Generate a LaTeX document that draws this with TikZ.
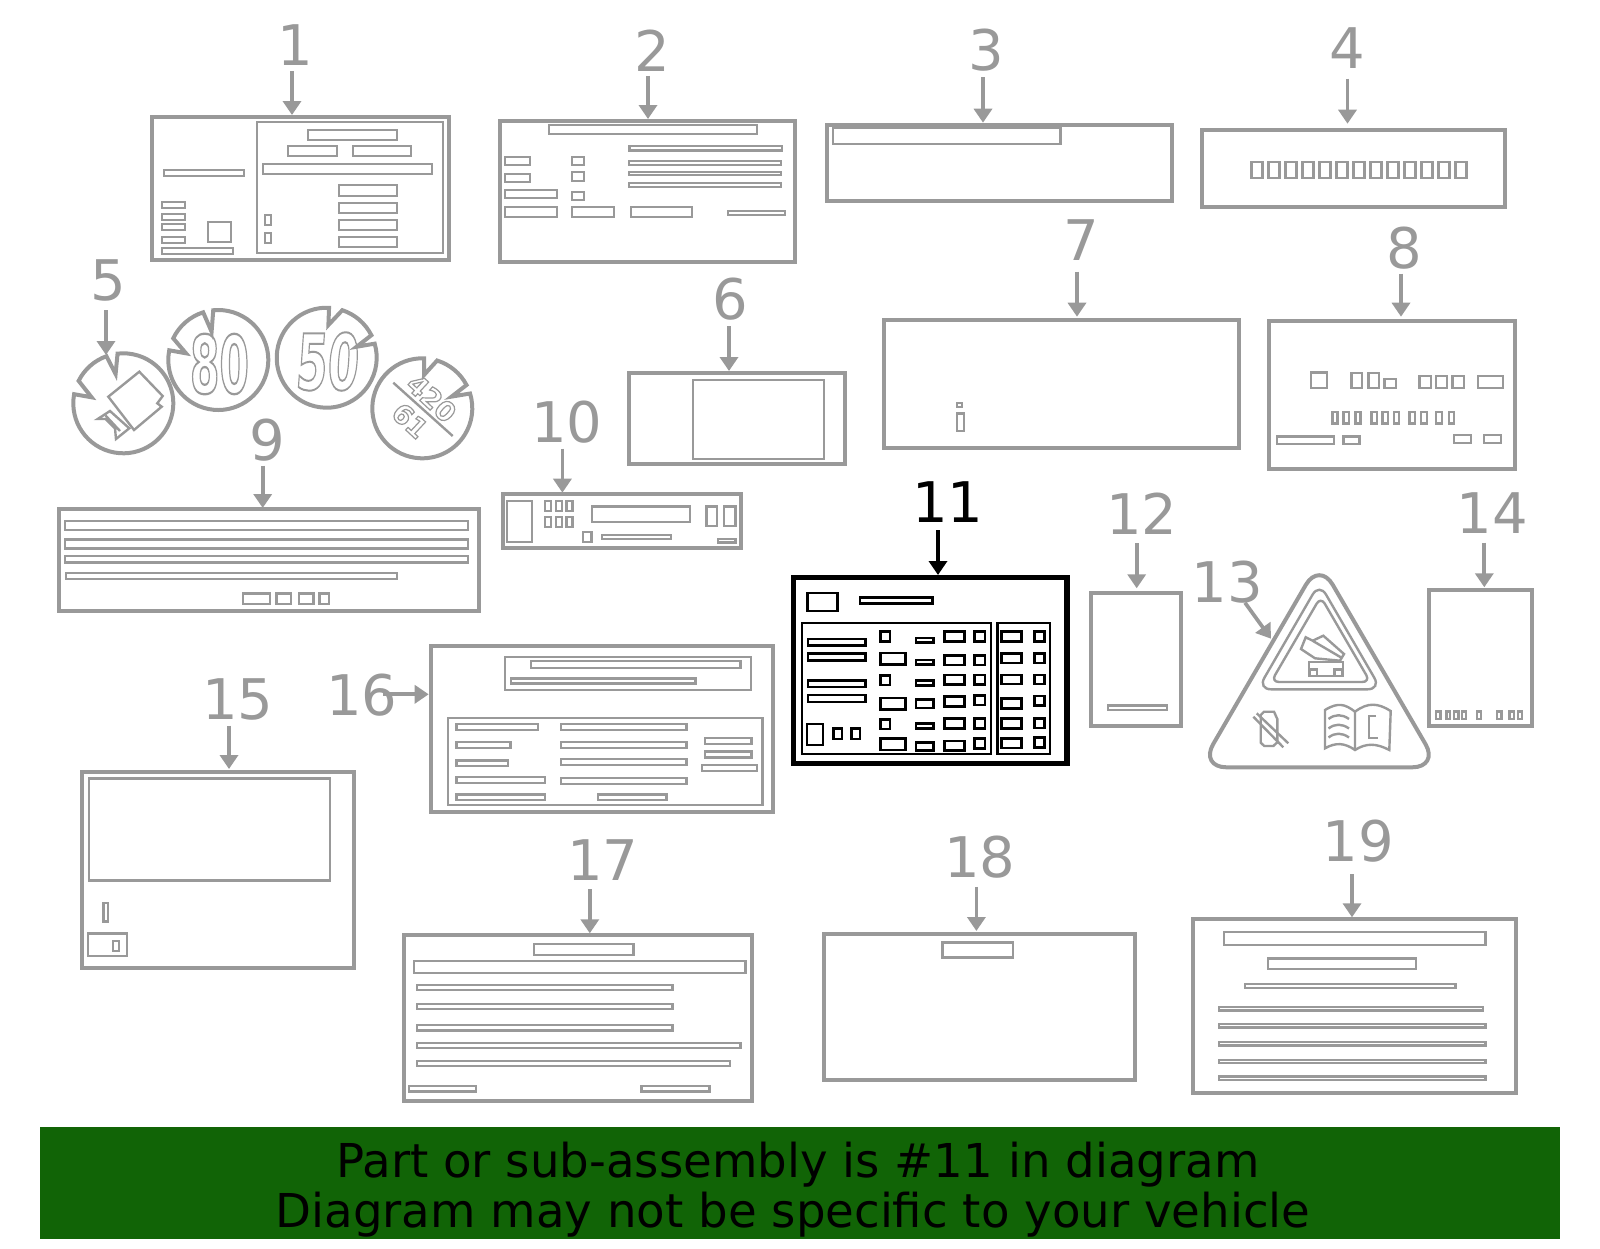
\documentclass[tikz,border=0pt]{standalone}
\usepackage{fontspec}
\setmainfont{DejaVu Sans}
\usetikzlibrary{arrows.meta,fit}
\definecolor{partgray}{HTML}{999999}
\definecolor{bannergreen}{HTML}{116406}
\newcommand{\outlined}[2]{\special{pdf:code q 1 Tr #1 w 0.6 G}#2\special{pdf:code Q}}
\begin{document}
\begin{tikzpicture}
      [x=0.75pt,y=-0.75pt,
      part/.style={draw=partgray,line width=3pt,inner sep=0pt,outer sep=0pt},
      partk/.style={draw=black,line width=3.9pt,inner sep=0pt,outer sep=0pt},
      cell/.style={draw=partgray,line width=1.8pt},
      cellk/.style={draw=black,line width=2.2pt},
      num/.style={font=\fontsize{42}{42}\selectfont,text=partgray,inner sep=0pt},
      leader/.style={draw=partgray,line width=2.8pt,-{Triangle[length=10.5pt,width=13.5pt]}},
      stamp/.style={font=\bfseries\fontsize{#1}{#1}\selectfont,inner sep=0pt},
      caption/.style={font=\fontsize{35}{35}\selectfont,text=black,inner sep=0pt,anchor=base},
      ]
      \useasboundingbox (0,0) rectangle (1600,1249);
      \foreach \k/\xa/\ya/\xb/\yb in {1/151/115.5/449.5/260.5,2/498.6/119.5/795.7/262.5,3/826.4/123.7/1173/201.5,
        4/1201.4/128.7/1506.4/207.5,6/627.5/372.3/845.7/464.5,7/882.9/319.3/1240.4/448.7,8/1267.5/320/1516.4/470,
        9/58.3/507.7/480/611.7,10/502.2/493.3/742.1/549,12/1090.3/592/1181.7/726.7,14/1428.3/589.3/1532.7/727.3,
        15/81.1/770.7/354.8/969.3,16/430/645/774/813.3,17/402.5/934/753.3/1102,18/822.8/933/1135.9/1081,19/1191.7/918/1517.4/1094.3}
        \node[part,fit={(\xa+1,\ya+1)(\xb-1,\yb-1)}] (p\k) {};
      \node[partk,fit={(793.5,577.2)(1067,763.5)}] (p11) {};
      \foreach \xa/\ya/\xb/\yb in {256/121/444/254,307/129/398/141,287/145/338/157,352/145/412/157,262/163/433/175,
        338/184/398/197,338/202/398/214,338/219/398/231,338/236/398/248,264/214/272/226,264/232/272/244,
        163/169/245/177,161/201/186/209,161/213/186/221,161/223/186/231,161/236/186/244,161/247/234/255,207/221/232/243,
        547.9/124/757.9/135,628.6/145.3/782.9/151.3,628/160/782/166,628/171/782/176,628/182/782/188,
        504/156/531/166,504/173/531/183,504/189/558/199,504/206/558/218,571/156/585/166,571/171/585/182,
        571/191/585/201,571/206/615/218,630/206/693/218,727/210/786/216,
        832/127.3/1061.4/145,692/379/825/460,956.4/402/963/408,956.4/412.7/964.6/432,
        1310/371.7/1328/389,1350.7/372/1363/389,1367.5/372/1380/389,1383.6/378/1396.8/389,
        1418.6/375/1431.8/389,1435/375/1448/389,1451.8/375/1465/389,1477/375/1504/389,
        1331.8/411/1338.2/424.3,1342.5/411/1349.6/424.3,1354.6/411/1361.4/424.3,1370.7/411/1377.9/424.3,
        1381.8/411/1388.9/424.3,1393.2/411/1400/424.3,1408.6/411/1415.7/424.3,1420.4/411/1427.5/424.3,
        1435.4/411/1442.5/424.3,1447.9/411/1454.6/424.3,1276.4/435.7/1334.6/445,1342.5/435.7/1360.4/445,
        1453.2/434.3/1472/443.7,1482.9/434.3/1501.8/443.7,
        64.3/520/468.7/530.7,64.3/538.7/468.7/549.3,64.3/555/468.7/563.3,65.3/572/398/580,
        242.3/592.7/271/604.7,275.7/592.7/291.7/604.7,298.3/592.7/314.3/604.7,318.7/592.7/330/604.7,
        506/500.3/532.8/542.7,544.3/500.3/552/511.7,555/500.3/562.7/511.7,565.7/500.3/573.4/511.7,
        544.3/516/552/527.7,555/516/562.7/527.7,565.7/516/573.4/527.7,591.4/505.7/690.5/522.7,
        705.8/505.7/718/526.7,723/505.7/736.4/526.7,582.2/531/592.1/542.7,601/534/672/539.7,717.3/538/736.4/543.3,
        1107.3/704.7/1167.7/710.7,1435.3/710.7/1441.3/720,1445.7/710.7/1451/720,1453.3/710.7/1459.3/720,
        1461/710.7/1467/720,1476/710.7/1482/720,1496.3/710.7/1502.3/720,1508.7/710.7/1514.7/720,1517/710.7/1523/720,
        88/777.7/330.9/881.3,102.7/902.3/109/922.3,87/932.7/128/957,111.9/940.3/119.7/951.7,
        504.4/656.3/751.9/690.7,530.2/660.3/741.4/669,510.4/677.7/696.4/684.3,447/717/763.4/805.7,
        455.8/723.3/538.9/730.7,455.8/741.3/511.3/748.7,455.8/759.7/509/767,455.8/776.3/545.8/784,455.8/793.7/545.8/801,
        560/723.3/687.2/730.7,560/741.3/687.2/748.7,560/758/687.2/765.7,560/777.3/687.2/785,597.2/793.7/667.4/801,
        704.2/737/752.4/744.7,704.2/750.7/752.4/758.3,701/764.3/757.9/772,
        533.4/943/634.4/956,413/960.3/746.4/973.7,416.3/984.3/673.4/991,416.3/1003.3/673.4/1010,416.3/1024.3/673.4/1031.3,
        416.3/1042/741.4/1049,416.3/1060.3/730.8/1067,408/1085.3/476.9/1092.3,640.8/1085.3/710.1/1092.3,
        941.5/941.7/1013.8/958.3,1223.2/931.3/1486.4/946,1267.3/957.7/1417/970,1244/983/1456.3/989,
        1218.3/1006/1483.5/1011.3,1218.3/1023/1486.4/1028.3,1218.3/1041/1486.4/1046.3,1218.3/1059/1486.4/1064,1218.3/1075.7/1486.4/1081}
        \draw[cell] (\xa+.8,\ya+.8) rectangle (\xb-.8,\yb-.8);
      \foreach \i in {0,...,12}
        \draw[cell] (1250.7+\i*17+.8,161.8) rectangle (1250.7+\i*17+11.7,178.2);
      \foreach \xa/\ya/\xb/\yb in {806.7/592/838.3/612,859/596.3/933.3/604.7,801/622/992/755,996.7/622/1051/755,
        807/638/866.3/646.7,807/652.3/866.3/661.3,807/679.3/866.3/688,807/694/866.3/703,806/723/824/746,
        832.3/727.3/843/740,850.3/727.3/861/740,879.7/630.7/891/642.3,879.7/652/906.3/665.3,879.7/674.7/891/686,
        879.7/697/906.3/710.3,879.7/718.3/891/730,879.7/737.7/906.3/751,915/637/934.3/643.7,915/659/934.3/665.3,
        915/679.7/934.3/686.3,915/698.7/934.3/709,915/722.7/934.3/729.3,915/741.7/934.3/751.7,
        943.7/630.7/965.7/642.3,943.7/654.3/965.7/666,943.7/674/965.7/685.7,943.7/695.7/965.7/707.3,
        943.7/717.7/965.7/729.3,943.7/740/965.7/751.7,973.7/630.7/986/642.3,973.7/654.3/986/666,973.7/674/986/685.7,
        973.7/694.3/986/706,973.7/717.7/986/729.3,973.7/737.7/986/749.3,1000.7/630.7/1022.7/642.3,1000.7/652.3/1022.7/664,
        1000.7/674/1022.7/685,1000.7/697.7/1022.7/709.3,1000.7/717.7/1022.7/729.3,1000.7/737.3/1022.7/749,
        1033.3/630.7/1045.7/642.3,1033.3/652.3/1045.7/664,1033.3/674/1045.7/685,1033.3/695/1045.7/706.7,
        1033.3/717.3/1045.7/729,1033.3/736.7/1045.7/748.3}
        \draw[cellk] (\xa+1,\ya+1) rectangle (\xb-1,\yb-1);
      \foreach \cx/\cy/\aa/\ab/\nxa/\nya/\ac/\ad/\nxb/\nyb in {123.3/403.3/109.7/153.3/-31.7/6/169.5/456.6/-7.7/29.3,
        218.3/360/107.6/154.3/-32.3/6.7/168.8/455.8/-6.7/28.3,326.7/357.7/26.7/71.8/1.7/32.7/87.3/376.3/30/11,
        422.3/408.3/27.8/72.8/1.7/33.3/88/377.2/29.3/11.7}
        {
        \begin{scope}[shift={(\cx,\cy)},y=0.75pt]
          \draw[part] (\aa:50) arc[start angle=\aa,end angle=\ab,radius=50] -- (\nxa,\nya) -- (\ac:50)
            arc[start angle=\ac,end angle=\ad,radius=50] -- (\nxb,\nyb) -- cycle;
        \end{scope}
        }
      \draw[cell] (108.3,396.7) -- (139.3,371.7) -- (162.7,396) -- (157.3,403.3) -- (161.7,406.7) -- (134,430) -- cycle;
      \draw[cell] (97.7,419) -- (110,411) -- (129.3,428.3) -- (116,439) -- (115,428.3) -- (105.7,419) -- cycle (105.7,415.7) -- (120,431);
      \node[stamp=60,xscale=.53] (s80) at (219.5,364) {\outlined{1.7}{80}};
      \node[stamp=58,xscale=.58,xslant=.12] (s50) at (328,361.5) {\outlined{1.5}{50}};
      \node[stamp=20,rotate=-43] (s420) at (431.7,398.3) {\outlined{.9}{420}};
      \node[stamp=20,rotate=-43] (s61) at (410,420.7) {\outlined{.9}{61}};
      \draw[cell] (393.3,382.7) -- (452.7,436);
      \draw[part,rounded corners=20pt] (1319.3,561.7) -- (1439,767.3) -- (1199.7,767.3) -- cycle;
      \draw[cell,rounded corners=10pt] (1319.3,583) -- (1381,689.3) -- (1257.7,689.3) -- cycle;
      \draw[cell,rounded corners=6pt] (1320.7,596.7) -- (1370.3,682) -- (1271,682) -- cycle;
      \draw[cell] (1301,649) -- (1305.7,637.3) -- (1312.7,640.7) -- (1323.3,635.7) -- (1344,654) -- (1340,660.7) -- (1315,658.3) -- cycle (1313,641) -- (1342,658);
      \draw[cell] (1309,662) rectangle (1343,676);
      \draw[cell] (1310,669.5) rectangle (1317,676);
      \draw[cell] (1334.5,669.5) rectangle (1342.5,676);
      \draw[cell] (1260.7,715) -- (1264,711.7) -- (1274,711.7) -- (1277.3,719) -- (1277.3,742.3) -- (1273.3,746) -- (1264.3,746) -- (1260.7,742.7) -- cycle;
      \draw[cell] (1253.3,716.7) -- (1283.3,747.3) (1256.7,713.3) -- (1288.3,743.3);
      \draw[cell] (1325,710) .. controls (1338,702) and (1345,704) .. (1355,711.7) .. controls (1368,702) and (1378,703) .. (1390.7,711) -- (1389.3,750)
        .. controls (1376,743) and (1366,743) .. (1355,750) .. controls (1345,743) and (1336,742) .. (1325,748.3) -- cycle (1355,711.7) -- (1355,750);
      \foreach \yy in {719,728.5,737.5}
        \draw[cell] (1328.5,\yy) .. controls (1335,\yy-5) and (1342,\yy-5) .. (1349,\yy);
      \draw[cell] (1376,715.7) -- (1369,715.7) -- (1369,737.7) -- (1378,737.7);
      \foreach \k/\xx/\yy in {1/295/45,2/652/50.5,3/986/50,4/1347/48,5/108.7/280,6/730/299,7/1081/240,8/1404/248.5,
        9/267/440,10/567/422.5,12/1142/513.5,13/1227.5/582.5,14/1492/513,15/238/699.5,16/362/695.5,17/603/860.5,18/980/857.5,19/1358/841}
        \node[num] (n\k) at (\xx,\yy) {\k};
      \node[num,text=black] (n11) at (948,502) {11};
      \foreach \k/\xx/\yy/\gap in {1/292/115/5.7,2/648/119/4.3,3/983/122.7/6,4/1347.5/123.7/10,5/106/355/9.3,6/729/371/5.7,
        7/1077/316.7/11,8/1401/316.7/3.7,9/262.7/508/4.3,10/562.4/492.7/4.7,12/1136.7/588.3/8.7,14/1484.3/587.3/9,
        15/229/769/5,17/589.8/933.3/8,18/976.4/931/8,19/1352/917.3/11.6}
        {
        \coordinate (t\k) at (\xx,\yy);
        \draw[leader,shorten <=\gap*0.75pt] (n\k.south -| t\k) -- (t\k);
        }
      \coordinate (t11) at (938,575);
      \draw[leader,draw=black,shorten <=5.5pt] (n11.south -| t11) -- (t11);
      \coordinate (s13) at (1245,602.7);
      \coordinate (t13) at (1271,638.7);
      \draw[leader] (s13) -- (t13);
      \coordinate (s16) at (382.8,694.3);
      \coordinate (t16) at (428.7,694.3);
      \draw[leader] (s16) -- (t16);
      \node[fill=bannergreen,inner sep=0pt,fit={(40,1127.3)(1559.6,1238.7)}] (banner) {};
      \node[caption] (cap1) at (798,1177) {Part or sub-assembly is \#11 in diagram};
      \node[caption] (cap2) at (793,1227) {Diagram may not be specific to your vehicle};
\end{tikzpicture}
\end{document}
